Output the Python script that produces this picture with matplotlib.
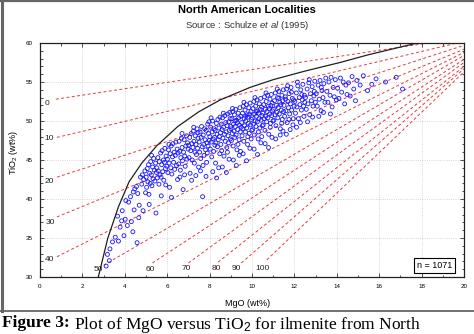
import matplotlib
matplotlib.use("Agg")
import matplotlib.pyplot as plt
from matplotlib.lines import Line2D
from matplotlib.ticker import MultipleLocator

plt.rcParams['font.family'] = ['Liberation Sans', 'DejaVu Sans']
plt.rcParams['mathtext.fontset'] = 'custom'
plt.rcParams['mathtext.rm'] = 'Liberation Sans'
plt.rcParams['mathtext.it'] = 'Liberation Sans:italic'

# ---------------- data ----------------
title = "North American Localities"
subtitle = "Source : Schulze $\\it{et\\ al}$ (1995)"
x_label = "MgO (wt%)"
y_label = "TiO$_2$ (wt%)"
n_label = "n = 1071"
caption_bold = "Figure 3:"
caption_rest = "Plot of MgO versus TiO$_2$ for ilmenite from North"

# red dashed reference lines: label, start point, end point (at MgO = 20)
line_labels = ["0", "10", "20", "30", "40", "50", "60", "70", "80", "90", "100"]
line_x0 = [0.75, 0.8, 0.8, 0.8, 0.8, 3.0, 5.3, 7.0, 8.4, 9.5, 10.7]
line_y0 = [52.8, 47.9, 42.8, 37.7, 32.6, 31.5, 31.8, 31.8, 31.9, 31.8, 32.2]
line_x1 = [20, 20, 20, 20, 20, 20, 20, 20, 20, 20, 20]
line_y1 = [60.7, 60.2, 59.7, 59.2, 58.8, 58.4, 57.9, 57.5, 57.0, 56.7, 56.3]
label_x = [0.2, 0.2, 0.2, 0.25, 0.25, 2.55, 5.0, 6.7, 8.1, 9.05, 10.15]
label_y = [52.3, 47.7, 42.2, 37.05, 32.2, 31.0, 31.0, 31.1, 31.1, 31.1, 31.1]

# black boundary curve
curve_mgo = [2.75, 3.2, 3.7, 4.2, 4.8, 5.5, 6.5, 7.5, 8.5, 9.9, 11.0, 12.5, 14.15, 15.5, 17.8]
curve_tio2 = [30.0, 35.0, 39.0, 42.2, 44.6, 46.8, 49.3, 51.2, 52.7, 54.3, 55.3, 56.4, 57.5, 58.5, 60.0]

# ilmenite analyses (MgO, TiO2)
points = [
(3.12,31.4),(3.18,32.9),(3.30,33.6),(3.42,34.5),(3.27,32.1),
(3.55,35.1),(3.70,34.6),(3.78,36.4),(3.85,37.2),(3.66,37.8),(3.88,38.5),(3.96,35.3),
(4.02,37.4),(4.12,36.6),(4.18,39.6),(4.27,40.3),(4.31,37.1),(4.40,40.9),(4.44,38.6),(4.38,35.8),(4.47,41.3),(4.05,39.8),
(4.55,41.6),(4.58,34.4),(4.61,40.7),(4.68,39.2),(4.74,42.8),(4.80,41.9),(4.83,43.1),(4.86,38.5),(4.89,42.5),(4.95,43.6),(4.98,40.8),(4.66,37.6),
(5.01,42.8),(5.03,41.5),(5.06,43.9),(5.09,42.2),(5.12,44.4),(5.14,40.6),(5.17,43.3),(5.20,42.0),(5.22,44.8),(5.25,43.1),(5.28,41.7),(5.31,44.1),(5.33,42.6),(5.36,45.2),(5.39,43.7),(5.42,42.3),(5.45,44.6),(5.47,38.2),(5.49,43.4),(5.15,39.3),(5.26,45.6),
(5.51,44.0),(5.53,42.7),(5.56,45.3),(5.58,43.6),(5.61,41.9),(5.63,44.8),(5.66,43.1),(5.69,45.9),(5.71,42.8),(5.74,44.4),(5.76,46.2),(5.79,43.5),(5.82,45.0),(5.84,42.4),(5.87,44.7),(5.89,46.5),(5.92,43.9),(5.95,45.5),(5.98,44.2),(5.72,40.4),(5.93,41.8),
(6.01,45.1),(6.03,43.4),(6.06,46.3),(6.09,44.6),(6.11,41.5),(6.14,45.8),(6.17,44.0),(6.19,46.8),(6.22,43.2),(6.25,45.4),(6.27,47.1),(6.30,44.7),(6.33,46.0),(6.35,43.8),(6.38,45.6),(6.41,47.3),(6.44,44.3),(6.47,46.4),(6.49,42.5),(6.20,40.2),(6.08,47.0),
(6.51,45.9),(6.54,44.5),(6.56,47.4),(6.59,46.1),(6.62,43.7),(6.64,45.3),(6.67,47.8),(6.70,46.6),(6.72,44.9),(6.75,41.2),(6.77,46.0),(6.80,47.6),(6.83,45.5),(6.85,44.2),(6.88,46.8),(6.91,48.1),(6.93,45.1),(6.96,47.2),(6.99,46.4),(6.60,42.8),(6.82,43.1),(6.70,48.4),
(7.01,46.9),(7.03,45.3),(7.06,47.9),(7.08,43.3),(7.11,46.2),(7.13,48.4),(7.16,47.1),(7.18,45.0),(7.21,46.6),(7.23,48.7),(7.26,47.4),(7.28,44.6),(7.31,46.0),(7.33,48.1),(7.36,47.0),(7.38,45.7),(7.41,49.0),(7.43,46.5),(7.46,47.8),(7.48,44.1),(7.15,42.4),(7.35,43.0),(7.25,49.2),(7.45,48.5),
(7.51,47.3),(7.53,46.0),(7.55,48.6),(7.58,45.2),(7.60,47.9),(7.62,49.3),(7.65,46.7),(7.67,40.3),(7.70,48.2),(7.72,47.0),(7.74,45.6),(7.77,49.0),(7.79,47.6),(7.81,46.3),(7.84,48.8),(7.86,44.7),(7.88,47.2),(7.91,49.6),(7.93,46.8),(7.95,48.4),(7.98,47.5),(7.57,43.6),(7.83,42.9),(7.69,44.3),(7.89,45.9),(7.97,49.9),
(8.01,48.0),(8.03,46.4),(8.05,49.2),(8.08,47.3),(8.10,45.4),(8.12,48.6),(8.14,50.0),(8.17,47.7),(8.19,46.1),(8.21,49.0),(8.23,47.9),(8.26,48.8),(8.28,44.6),(8.30,47.2),(8.32,49.7),(8.35,48.3),(8.37,46.7),(8.39,50.2),(8.41,47.6),(8.44,49.1),(8.46,48.0),(8.48,45.8),(8.15,43.5),(8.33,42.7),(8.07,50.4),(8.25,46.9),(8.43,44.0),(8.49,50.5),
(8.51,48.5),(8.53,47.0),(8.55,49.6),(8.57,46.2),(8.59,48.9),(8.61,50.4),(8.63,47.8),(8.66,49.2),(8.68,45.5),(8.70,48.3),(8.72,50.7),(8.74,47.4),(8.76,49.8),(8.78,48.6),(8.81,46.6),(8.83,49.4),(8.85,50.9),(8.87,48.1),(8.89,47.2),(8.91,49.9),(8.93,48.8),(8.95,51.1),(8.98,47.7),(8.99,49.3),(8.60,44.1),(8.79,43.4),(8.92,45.1),(8.65,51.0),(8.84,46.0),(8.97,50.3),
(9.01,49.0),(9.03,47.5),(9.05,50.3),(9.07,48.4),(9.09,51.2),(9.11,46.8),(9.13,49.6),(9.15,48.7),(9.17,50.8),(9.19,47.9),(9.21,49.3),(9.23,51.5),(9.25,48.2),(9.27,50.1),(9.29,46.3),(9.31,49.8),(9.33,48.9),(9.35,51.0),(9.37,50.4),(9.39,47.6),(9.41,49.5),(9.43,51.7),(9.45,48.6),(9.47,50.6),(9.49,49.2),(9.12,45.0),(9.26,44.3),(9.40,45.6),(9.08,51.6),(9.34,47.0),(9.46,46.1),(9.20,50.0),
(9.51,49.8),(9.53,48.1),(9.55,51.0),(9.57,49.0),(9.59,51.9),(9.61,47.4),(9.63,50.3),(9.65,49.4),(9.67,51.4),(9.69,48.6),(9.71,50.0),(9.73,52.1),(9.75,49.1),(9.77,50.8),(9.79,47.0),(9.81,50.5),(9.83,49.7),(9.85,51.7),(9.87,48.4),(9.89,50.9),(9.91,52.3),(9.93,49.5),(9.95,51.2),(9.97,50.2),(9.99,48.8),(9.58,45.8),(9.74,44.9),(9.90,46.5),(9.62,52.4),(9.80,48.0),(9.96,47.7),(9.70,50.6),
(10.01,50.4),(10.03,48.9),(10.05,51.6),(10.07,49.6),(10.09,52.5),(10.11,48.2),(10.13,50.9),(10.15,50.0),(10.17,51.9),(10.19,49.3),(10.21,50.6),(10.23,52.7),(10.25,49.9),(10.27,51.3),(10.29,47.7),(10.31,51.0),(10.33,50.3),(10.35,52.2),(10.37,49.1),(10.39,51.5),(10.41,52.9),(10.43,50.1),(10.45,51.8),(10.47,50.7),(10.49,49.4),(10.10,46.4),(10.26,45.7),(10.42,47.2),(10.14,53.0),(10.30,48.6),(10.46,48.0),(10.20,51.2),
(10.51,51.0),(10.53,49.5),(10.55,52.1),(10.57,50.3),(10.59,53.1),(10.61,48.8),(10.63,51.5),(10.65,50.6),(10.67,52.5),(10.69,49.9),(10.71,51.2),(10.73,53.3),(10.75,50.4),(10.77,51.9),(10.79,48.3),(10.81,51.6),(10.83,50.9),(10.85,52.8),(10.87,49.7),(10.89,52.0),(10.91,53.4),(10.93,50.7),(10.95,52.3),(10.97,51.3),(10.62,47.1),(10.78,46.6),(10.94,47.9),(10.66,53.6),(10.86,49.2),(10.99,50.0),
(11.01,51.5),(11.03,50.1),(11.06,52.6),(11.08,50.8),(11.10,53.6),(11.13,49.4),(11.15,52.0),(11.17,51.1),(11.20,53.0),(11.22,50.4),(11.24,51.7),(11.27,53.8),(11.29,50.9),(11.31,52.4),(11.34,49.0),(11.36,52.1),(11.38,51.4),(11.41,53.3),(11.43,50.2),(11.45,52.6),(11.48,54.0),(11.49,51.2),(11.12,47.7),(11.33,48.2),(11.46,48.7),(11.19,54.1),(11.40,49.7),(11.26,52.9),
(11.51,52.0),(11.54,50.6),(11.57,53.1),(11.60,51.3),(11.63,54.1),(11.66,49.8),(11.69,52.5),(11.72,51.7),(11.75,53.5),(11.78,50.9),(11.81,52.2),(11.84,54.3),(11.87,51.4),(11.90,52.9),(11.93,49.5),(11.96,52.7),(11.99,51.9),(11.62,48.3),(11.80,48.9),(11.95,50.3),(11.68,54.5),(11.86,53.7),(11.74,50.2),(11.58,52.8),
(12.02,52.5),(12.05,51.0),(12.09,53.6),(12.12,51.8),(12.16,54.5),(12.19,50.3),(12.23,53.0),(12.26,52.1),(12.30,54.0),(12.33,51.4),(12.37,52.7),(12.40,54.7),(12.43,51.9),(12.47,53.3),(12.10,49.2),(12.28,49.8),(12.45,50.6),(12.14,55.0),(12.35,53.4),(12.49,52.4),
(12.52,53.0),(12.56,51.5),(12.60,54.1),(12.64,52.2),(12.68,54.9),(12.72,50.8),(12.76,53.5),(12.80,52.6),(12.84,54.4),(12.88,51.9),(12.92,53.2),(12.96,55.1),(12.99,52.4),(12.62,49.9),(12.86,50.5),(12.70,55.3),(12.94,53.8),
(13.03,53.5),(13.08,51.9),(13.12,54.6),(13.17,52.8),(13.21,55.2),(13.26,51.3),(13.30,53.9),(13.35,53.0),(13.39,54.8),(13.44,52.4),(13.48,55.5),(13.15,50.6),(13.37,51.1),(13.27,54.3),
(13.53,53.8),(13.58,52.4),(13.63,55.0),(13.68,53.3),(13.73,55.6),(13.78,51.8),(13.83,54.3),(13.88,53.1),(13.93,55.3),(13.98,52.7),(13.70,50.9),
(14.04,54.2),(14.10,52.9),(14.17,55.5),(14.23,53.7),(14.30,55.0),(14.37,52.2),(14.43,54.6),(14.48,53.4),
(14.55,54.9),(14.63,53.2),(14.72,55.7),(14.80,54.1),(14.88,52.6),(14.95,55.2),
(15.10,54.6),(15.25,55.8),(15.45,53.9),(15.65,54.7),(15.85,55.4),
(16.3,55.0),(16.8,55.6),(17.1,54.1),
]
mgo = [p[0] for p in points]
tio2 = [p[1] for p in points]

# ---------------- figure ----------------
W, H = 474, 334
fig = plt.figure(figsize=(W / 100, H / 100), dpi=100)
fig.patch.set_facecolor('white')

def fx(px):
    return px / W

def fy(py):
    return 1 - py / H

ax = fig.add_axes([fx(40), fy(277), fx(464) - fx(40), fy(43) - fy(277)])
ax.set_xlim(0, 20)
ax.set_ylim(30, 60)

ax.grid(True, which='major', color='#c8c8c8', linestyle=':', linewidth=0.6)
ax.set_axisbelow(True)

for lab, x0, y0, x1, y1, lx, ly in zip(line_labels, line_x0, line_y0, line_x1, line_y1, label_x, label_y):
    ax.plot([x0, x1], [y0, y1], color='#e8383c', linewidth=0.7, dashes=(3, 2.5), zorder=2)
    ax.text(lx, ly, lab, fontsize=6, ha='left', va='center', color='#222222', zorder=4)

ax.plot(curve_mgo, curve_tio2, color='#202020', linewidth=0.9, zorder=3)

ax.scatter(mgo, tio2, s=8, facecolors='none', edgecolors='#1515ff', linewidths=0.6, zorder=4)

ax.text(18.6, 31.5, n_label, fontsize=6.5, ha='center', va='center', zorder=5,
        bbox=dict(boxstyle='square,pad=0.35', facecolor='white', edgecolor='black', linewidth=0.8))

ax.xaxis.set_major_locator(MultipleLocator(2))
ax.xaxis.set_minor_locator(MultipleLocator(1))
ax.yaxis.set_major_locator(MultipleLocator(5))
ax.yaxis.set_minor_locator(MultipleLocator(1))
ax.tick_params(which='both', direction='in', top=True, right=True, labelsize=4.5, pad=5,
               width=0.6, color='#333333')
ax.tick_params(which='major', length=3)
ax.tick_params(which='minor', length=1.8)
for s in ax.spines.values():
    s.set_linewidth(0.9)
    s.set_color('#222222')

# titles and axis labels
fig.text(fx(247), fy(10), title, fontsize=8, fontweight='bold', ha='center', va='center')
fig.text(fx(247), fy(26), subtitle, fontsize=6.8, ha='center', va='center', color='#333333')
fig.text(fx(248), fy(303), x_label, fontsize=6.5, ha='center', va='center')
fig.text(fx(14), fy(152), y_label, fontsize=6.5, ha='center', va='center', rotation=90)

# outer frame of the original figure
frame_color = '#666666'
fig.add_artist(Line2D([fx(1.5), fx(1.5)], [fy(0), fy(311)], color=frame_color, linewidth=2.2))
fig.add_artist(Line2D([fx(0), fx(W)], [fy(0.8), fy(0.8)], color=frame_color, linewidth=1.6))
fig.add_artist(Line2D([fx(0), fx(W)], [fy(311), fy(311)], color=frame_color, linewidth=1.3))

# caption below the frame
cap_font = ['Liberation Serif', 'DejaVu Serif']
cap1 = fig.text(fx(2), fy(315), caption_bold, fontsize=12.5, fontweight='bold', ha='left', va='top',
                family=cap_font)
fig.canvas.draw()
bb = cap1.get_window_extent()
fig.text((bb.x1 + 4) / W, fy(315), caption_rest, fontsize=12.5, ha='left', va='top', family=cap_font)

fig.savefig("out.png", dpi=100)
